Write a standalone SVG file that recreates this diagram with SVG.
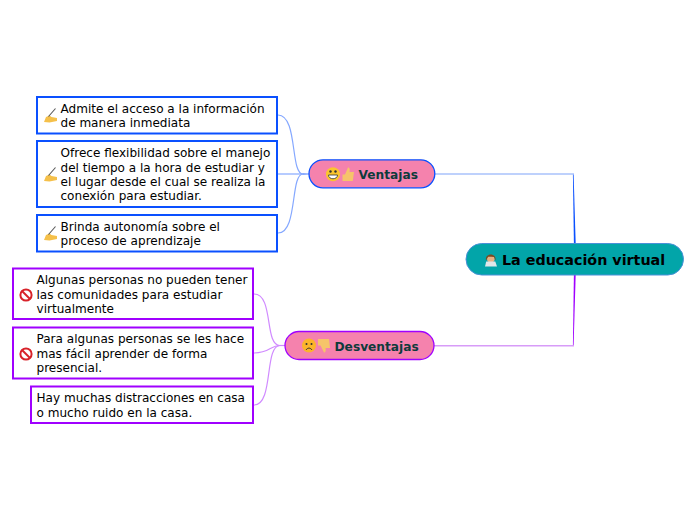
<svg xmlns="http://www.w3.org/2000/svg" width="696" height="520" viewBox="0 0 696 520">
<style>
text{font-family:"DejaVu Sans",sans-serif}
.t{font-size:12.06px;fill:#000}
.m{font-size:12.2px;font-weight:bold;fill:#0d3b3b}
.bb{fill:#fff;stroke:#0a50ff;stroke-width:2}
.bp{fill:#fff;stroke:#a000ff;stroke-width:2}
.cb{fill:none;stroke:#85a8ff;stroke-width:1.2}
.cp{fill:none;stroke:#d08aff;stroke-width:1.2}
.hand{fill:#f5c04a}
.pen{fill:none;stroke:#555;stroke-width:1.1}
</style>
<defs>
<g id="write"><path class="hand" d="M0.500 9 L2.500 4 L6 2.500 L8 4 L13.500 5 L13.500 8 L6 9.500 Z"/><path class="pen" d="M5 3.500 L12 -4.500"/></g>
<g id="no"><circle cx="7" cy="7" r="5.600" fill="#fff" stroke="#d8232a" stroke-width="2"/><path d="M3 3 L11 11" stroke="#d8232a" stroke-width="2"/></g>
</defs>
<g id="connectors">
<path d="M573.600 174 L572.900 174 L573.900 244 L575.700 244 Z" fill="#0a50ff"/>
<path d="M574 174 H435" fill="none" stroke="#a9c2fb" stroke-width="1.400"/>
<path d="M572.900 346 L573.600 346 L575.700 274 L573.900 274 Z" fill="#a000ff"/>
<path d="M574 345.700 H434" fill="none" stroke="#d79cf8" stroke-width="1.400"/>
<path class="cb" d="M303 174 C290 174 298 115 278 115"/>
<path class="cb" d="M309 174 H278"/>
<path class="cb" d="M303 174 C290 174 298 233 278 233"/>
<path d="M303 173 L309 174 L303 175 Z" fill="#85a8ff"/>
<path class="cp" d="M280 345.500 C264 345.500 274 294 254 294"/>
<path class="cp" d="M280 345.500 C270 345.500 270 353 254 353"/>
<path class="cp" d="M280 345.500 C264 345.500 274 405 254 405"/>
<path class="cp" d="M280 345.500 H285"/>
</g>
<g id="root">
<rect x="466" y="243.500" width="217.500" height="31.500" rx="15.700" fill="#02a5a9" stroke="#4a90d8" stroke-width="1"/>
<circle cx="490.800" cy="258.800" r="3.800" fill="#e8b184"/><path d="M486 260.500 C484.500 252.500 497 252.500 495.500 260.500 L494 257 C491 257 489 256.500 488 257 Z" fill="#7a4a22"/>
<path d="M485 266.500 L486.200 261.500 H495.300 L497 266.500 Z" fill="#dfe7ea"/>
<text x="502" y="265" style="font-size:14.300px;font-weight:bold" fill="#000">La educación virtual</text>
</g>
<g id="ventajas">
<rect x="309" y="159.800" width="125.800" height="28" rx="14" fill="#f582ad" stroke="#0a50ff" stroke-width="1.300"/>
<circle cx="333" cy="174.300" r="7" fill="#fbc52e"/><circle cx="330.500" cy="171.500" r="1.200" fill="#333"/><circle cx="335.500" cy="171.500" r="1.200" fill="#333"/><path d="M328.500 175 H337.500 C337.500 180 328.500 180 328.500 175 Z" fill="#fff" stroke="#333" stroke-width=".8"/>
<path d="M342.500 174.500 H345 L348 167.500 C350 167.500 350 170 349.500 172 H354 L352.800 181 H342.500 Z" fill="#f6c46a"/>
<text x="358.500" y="178.500" class="m">Ventajas</text>
</g>
<g id="desventajas">
<rect x="285" y="331.500" width="149" height="28" rx="14" fill="#f582ad" stroke="#a000ff" stroke-width="1.300"/>
<circle cx="309" cy="345.500" r="7" fill="#fbb52a"/><circle cx="306.500" cy="344" r="1" fill="#333"/><circle cx="311.500" cy="344" r="1" fill="#333"/><path d="M306 350 C307.500 347.500 310.500 347.500 312 350" fill="none" stroke="#333" stroke-width="1"/>
<path d="M318 345.500 H320.500 L324 352.500 C326 352.500 326 350 325.500 348 H330 L329 339 H318 Z" fill="#f6c46a"/>
<text x="334.500" y="351" class="m">Desventajas</text>
</g>
<g id="v1">
<rect class="bb" x="37" y="97" width="240" height="36.500"/>
<use href="#write" x="43.500" y="113"/>
<text class="t" x="60.500" y="113">Admite el acceso a la información</text>
<text class="t" x="60.500" y="127">de manera inmediata</text>
</g>
<g id="v2">
<rect class="bb" x="37" y="141" width="240" height="66"/>
<use href="#write" x="43.500" y="172"/>
<text class="t" x="60.500" y="157">Ofrece flexibilidad sobre el manejo</text>
<text class="t" x="60.500" y="172">del tiempo a la hora de estudiar y</text>
<text class="t" x="60.500" y="186">el lugar desde el cual se realiza la</text>
<text class="t" x="60.500" y="200">conexión para estudiar.</text>
</g>
<g id="v3">
<rect class="bb" x="37" y="215" width="240" height="36.500"/>
<use href="#write" x="43.500" y="231"/>
<text class="t" x="60.500" y="231">Brinda autonomía sobre el</text>
<text class="t" x="60.500" y="245">proceso de aprendizaje</text>
</g>
<g id="d1">
<rect class="bp" x="13" y="268.500" width="240" height="50.500"/>
<use href="#no" x="19" y="288"/>
<text class="t" x="36.500" y="284">Algunas personas no pueden tener</text>
<text class="t" x="36.500" y="299">las comunidades para estudiar</text>
<text class="t" x="36.500" y="313">virtualmente</text>
</g>
<g id="d2">
<rect class="bp" x="13" y="327.500" width="240" height="51"/>
<use href="#no" x="19" y="347"/>
<text class="t" x="36.500" y="343">Para algunas personas se les hace</text>
<text class="t" x="36.500" y="358">mas fácil aprender de forma</text>
<text class="t" x="36.500" y="372">presencial.</text>
</g>
<g id="d3">
<rect class="bp" x="31" y="386.500" width="222" height="36.500"/>
<text class="t" x="36.500" y="402">Hay muchas distracciones en casa</text>
<text class="t" x="36.500" y="417">o mucho ruido en la casa.</text>
</g>
</svg>
